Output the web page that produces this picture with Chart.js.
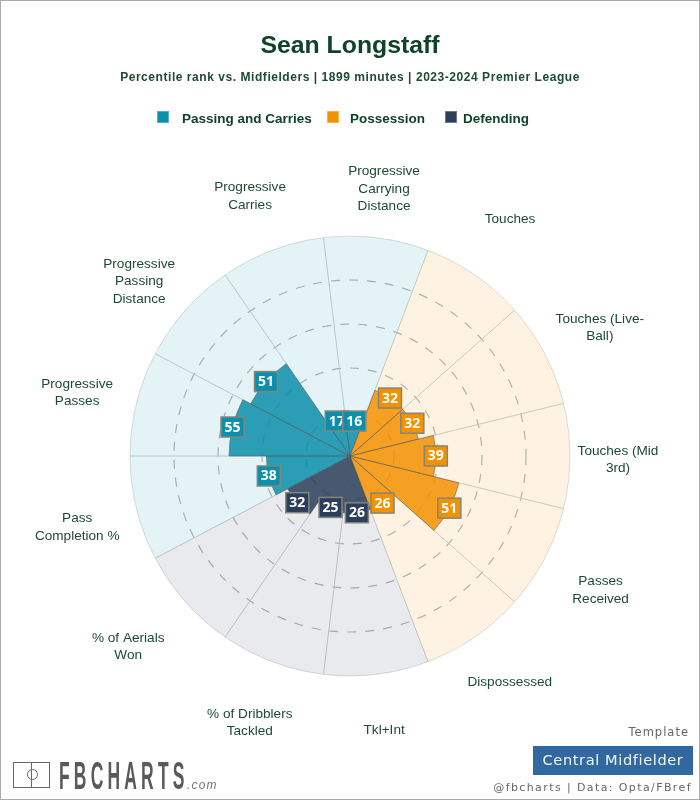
<!DOCTYPE html>
<html>
<head>
<meta charset="utf-8">
<title>Sean Longstaff</title>
<script src="https://cdn.jsdelivr.net/npm/chart.js@4/dist/chart.umd.min.js"></script>
<style>
  html, body { margin: 0; padding: 0; background: #fff; }
  #page { position: relative; width: 700px; height: 800px; overflow: hidden; font-family: "Liberation Sans", Arial, sans-serif; }
  #frame { position: absolute; left: 0; top: 0; width: 700px; height: 800px; box-sizing: border-box; border: 1px solid #aaa; pointer-events: none; }
  canvas { position: absolute; left: 0; top: 0; }
  .center { position: absolute; left: 0; width: 700px; text-align: center; color: #0f4229; font-weight: bold; white-space: nowrap; }
  #title { top: 30px; font-size: 24.8px; line-height: 30px; }
  #subtitle { top: 69px; font-size: 12px; line-height: 16px; letter-spacing: 0.55px; color: #1c4a33; }
  #legend span { position: absolute; top: 111px; font-size: 13.5px; line-height: 16px; font-weight: bold; color: #0f4229; white-space: nowrap; }
  #legend i { position: absolute; top: 111px; width: 12px; height: 12px; box-sizing: border-box; border: 1px solid rgba(255,255,255,0.3); }
  .foot { position: absolute; font-family: "DejaVu Sans", Verdana, sans-serif; color: #666; white-space: nowrap; }
  #template { right: 11px; top: 725px; font-size: 11.5px; letter-spacing: 1px; line-height: 14px; }
  #role { left: 533px; top: 746px; width: 160px; height: 29px; line-height: 28px; text-align: center; background: #31689f; color: #f2f6fa; font-size: 14.6px; letter-spacing: 0.6px; }
  #credit { right: 8px; top: 781px; font-size: 11px; line-height: 14px; letter-spacing: 1.4px; }
  #pitch { position: absolute; left: 13px; top: 762px; width: 37px; height: 26px; box-sizing: border-box; border: 1px solid #666; }
  #pitch b { position: absolute; left: 17px; top: 0; width: 1px; height: 24px; background: #666; }
  #pitch u { position: absolute; left: 13px; top: 6px; width: 11px; height: 11px; box-sizing: border-box; border: 1px solid #666; border-radius: 50%; }
  #brand { position: absolute; left: 59px; top: 757px; font-family: "Liberation Sans", sans-serif; font-weight: bold; font-size: 38px; line-height: 38px; letter-spacing: 9.1px; color: #5a5a5a; transform-origin: 0 0; transform: scaleX(0.46); white-space: nowrap; }
  #dotcom { position: absolute; left: 187px; top: 778px; font-family: "Liberation Sans", sans-serif; font-style: italic; font-size: 12px; line-height: 14px; letter-spacing: 1.2px; color: #777; }
</style>
</head>
<body>
<div id="page">
  <canvas id="myChart" width="700" height="800"></canvas>
  <div class="center" id="title">Sean Longstaff</div>
  <div class="center" id="subtitle">Percentile rank vs. Midfielders | 1899 minutes | 2023-2024 Premier League</div>
  <div id="legend"></div>
  <div class="foot" id="template">Template</div>
  <div class="foot" id="role">Central Midfielder</div>
  <div class="foot" id="credit">@fbcharts | Data: Opta/FBref</div>
  <div id="pitch"><b></b><u></u></div>
  <div id="brand">FBCHARTS</div>
  <div id="dotcom">.com</div>
  <div id="frame"></div>
</div>
<script>
const categories = [
  ['Progressive', 'Carrying', 'Distance'], ['Touches'], ['Touches (Live-', 'Ball)'], ['Touches (Mid', '3rd)'],
  ['Passes', 'Received'], ['Dispossessed'], ['Tkl+Int'], ['% of Dribblers', 'Tackled'], ['% of Aerials', 'Won'],
  ['Pass', 'Completion %'], ['Progressive', 'Passes'], ['Progressive', 'Passing', 'Distance'], ['Progressive', 'Carries']
];
const percentiles = [16, 32, 32, 39, 51, 26, 26, 25, 32, 38, 55, 51, 17];
const groupOf = [0, 1, 1, 1, 1, 1, 2, 2, 2, 0, 0, 0, 0];
const groupNames = ['Passing and Carries', 'Possession', 'Defending'];
const fullScale = categories.map(() => 100);

const groupRgb = ['11,143,172', '243,146,0', '44,62,92'];
const labelDistance = [270, 287, 281, 268, 283, 276, 275, 284, 291, 282, 280, 275, 279];
// small hand nudges so the names land where the reference has them
const labelNudgeX = [1.5, -3, 1, 0, 0, 3, 1, 0.5, -4, 1, -1, -5, -1];
const labelNudgeY = [1, -1, 2.5, 3.5, 2.5, -1, 1, 1, -2, 4, 4, 8, 1];
const legendSwatchX = [157, 327, 445];
const legendTextX = [182, 350, 463];

const legendEl = document.getElementById('legend');
groupNames.forEach((name, i) => {
  const box = document.createElement('i');
  box.style.left = legendSwatchX[i] + 'px';
  box.style.background = 'rgb(' + groupRgb[i] + ')';
  const txt = document.createElement('span');
  txt.style.left = legendTextX[i] + 'px';
  txt.textContent = name;
  legendEl.append(box, txt);
});

const polarLabels = {
  id: 'polarLabels',
  afterDatasetsDraw(chart) {
    const ctx = chart.ctx;
    const arcs = chart.getDatasetMeta(0).data;
    ctx.save();
    ctx.textAlign = 'center';
    ctx.textBaseline = 'middle';

    // category names round the outside
    ctx.font = '13.6px "Liberation Sans", Arial, sans-serif';
    ctx.fillStyle = '#1c4a33';
    arcs.forEach((arc, i) => {
      const mid = (arc.startAngle + arc.endAngle) / 2;
      const x = arc.x + Math.cos(mid) * labelDistance[i] + labelNudgeX[i];
      const y = arc.y + Math.sin(mid) * labelDistance[i] + labelNudgeY[i];
      const lines = categories[i];
      lines.forEach((line, n) => {
        ctx.fillText(line, x, y + (n - (lines.length - 1) / 2) * 17.5);
      });
    });

    // value boxes, last first so that 16 sits on top of 17
    ctx.font = 'bold 14px "Open Sans", sans-serif';
    for (let i = arcs.length - 1; i >= 0; i--) {
      const arc = arcs[i];
      const mid = (arc.startAngle + arc.endAngle) / 2;
      const x = arc.x + Math.cos(mid) * arc.outerRadius;
      const y = arc.y + Math.sin(mid) * arc.outerRadius;
      ctx.fillStyle = 'rgb(' + groupRgb[groupOf[i]] + ')';
      ctx.strokeStyle = '#85857b';
      ctx.lineWidth = 1.5;
      ctx.fillRect(x - 11.5, y - 10, 23, 20);
      ctx.strokeRect(x - 11.5, y - 10, 23, 20);
      ctx.fillStyle = '#fff';
      ctx.fillText(String(percentiles[i]), x, y + 0.5);
    }
    ctx.restore();
  }
};

new Chart(document.getElementById('myChart').getContext('2d'), {
  type: 'polarArea',
  data: {
    labels: categories.map(c => c.join(' ')),
    datasets: [
      {
        data: percentiles,
        backgroundColor: groupOf.map(g => 'rgba(' + groupRgb[g] + ',0.85)'),
        borderColor: 'rgba(90,90,90,0.55)',
        borderWidth: 1
      },
      {
        data: fullScale,
        backgroundColor: groupOf.map(g => 'rgba(' + groupRgb[g] + ',0.11)'),
        borderWidth: 0
      }
    ]
  },
  options: {
    responsive: false,
    animation: false,
    layout: { padding: { left: 130, right: 130, top: 236, bottom: 124 } },
    plugins: { legend: { display: false }, title: { display: false }, tooltip: { enabled: false } },
    scales: {
      r: {
        min: 0,
        max: 100,
        startAngle: -360 / 52,
        ticks: { display: false, stepSize: 20 },
        angleLines: { display: true, color: '#c8d1cc', lineWidth: 1 },
        grid: {
          circular: true,
          color: ctx => ctx.tick.value === 100 ? '#dedede' : '#b4b4b4',
          lineWidth: ctx => ctx.tick.value === 100 ? 1 : 1.2
        },
        border: { dash: ctx => ctx.tick.value === 100 ? [] : [9, 9] }
      }
    }
  },
  plugins: [polarLabels]
});
</script>
</body>
</html>
